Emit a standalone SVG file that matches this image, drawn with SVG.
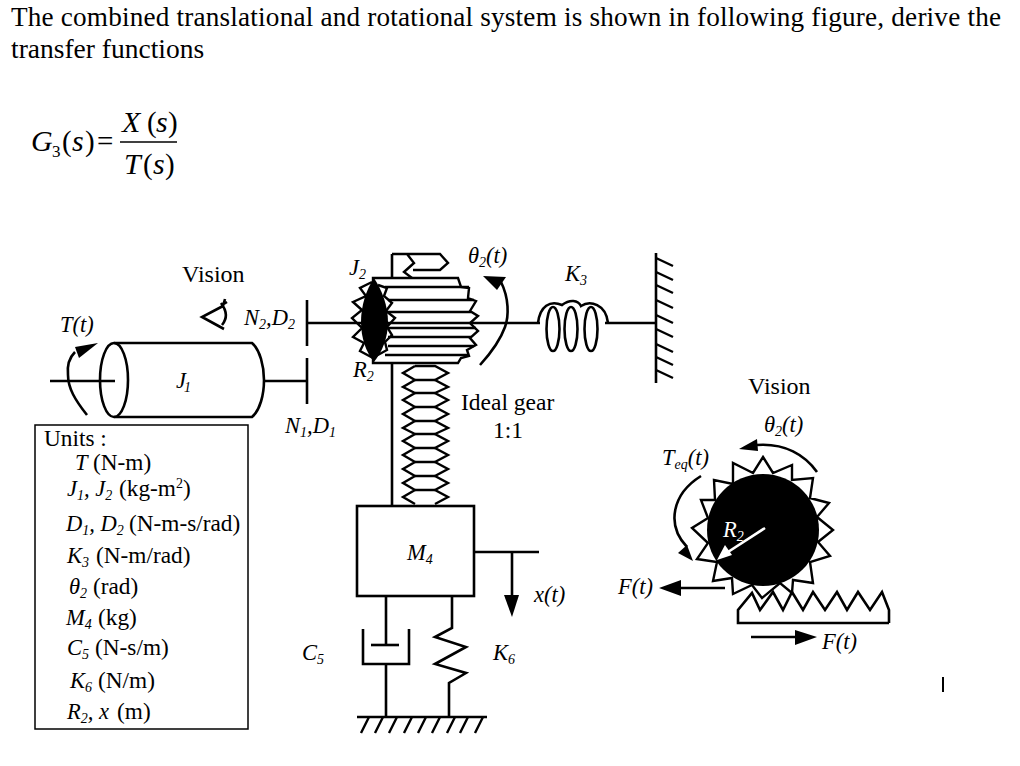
<svg xmlns="http://www.w3.org/2000/svg" width="1020" height="766" viewBox="0 0 1020 766">
<defs>
<style>
text{font-family:"Liberation Serif","Times New Roman",serif;font-size:24px;fill:#000}
.i{font-style:italic;font-size:22.5px}
.l{fill:none;stroke:#000;stroke-width:2.6;stroke-linejoin:miter}
.t{fill:none;stroke:#000;stroke-width:2.4;stroke-linejoin:miter}
.s{font-size:14px;font-style:italic}
.e{font-size:29px}
.ei{font-size:30px;font-style:italic}
.w{fill:#fff;stroke:#000;stroke-width:2.4}
#units text{font-size:23.3px}
#units .i{font-size:22.5px}
#units .s{font-size:14px}
</style>
</defs>
<rect width="1020" height="766" fill="#fff"/>
<g id="problem-text">
<text x="11" y="26" style="font-size:27.2px" textLength="990" lengthAdjust="spacing">The combined translational and rotational system is shown in following figure, derive the</text>
<text x="11" y="58" style="font-size:27.5px">transfer functions</text>
</g>
<g id="equation">
<text x="31" y="151" class="ei">G</text><text x="52" y="157" style="font-size:17px">3</text>
<text x="62" y="151" class="e">(</text><text x="72" y="151" class="ei">s</text><text x="85" y="151" class="e">)</text><text x="97" y="151" class="e">=</text>
<text x="122" y="132" class="ei">X</text><text x="147" y="132" class="e">(</text><text x="156" y="132" class="ei">s</text><text x="168" y="132" class="e">)</text>
<line x1="120" y1="142" x2="177" y2="142" stroke="#000" stroke-width="1.6"/>
<text x="124" y="174" class="ei">T</text><text x="143" y="174" class="e">(</text><text x="153" y="174" class="ei">s</text><text x="165" y="174" class="e">)</text>
</g>
<g id="connectors">
<line class="l" x1="50" y1="381" x2="115" y2="381"/>
<line class="l" x1="264" y1="381" x2="307" y2="381"/>
<line class="l" x1="307" y1="300" x2="307" y2="346"/>
<line class="l" x1="307" y1="358" x2="307" y2="404"/>
<line class="l" x1="605" y1="323" x2="656" y2="323"/>
<line class="l" x1="392" y1="254" x2="392" y2="278"/>
<line class="l" x1="392" y1="363" x2="392" y2="506"/>
<line class="l" x1="475" y1="552" x2="539" y2="552"/>
<line class="l" x1="512" y1="552" x2="512" y2="596"/>
<polygon points="504,595 519,595 512,617" fill="#000"/>
<line class="l" x1="386" y1="597" x2="386" y2="645"/>
<line class="l" x1="386" y1="664" x2="386" y2="717"/>
<polyline class="l" points="452,597 452,628 435,637 466,647 435,664 466,673 449,683 449,717"/>
</g>
<g id="J1">
<path class="l" d="M114,343 H252 C260,350 264,366 264,380 C264,395 260,410 252,417 H114"/>
<ellipse class="l" cx="114" cy="380" rx="14" ry="37"/>
<text x="176" y="388" class="i">J</text><text x="184" y="392" class="s">1</text>
</g>
<g id="torque">
<path class="l" d="M87,415 C75,400 68,388 68,375 C67,366 69,358 75,352"/>
<polygon points="75,347 98,343 79,358" fill="#000"/>
<text x="60" y="332" class="i">T(t)</text>
</g>
<g id="eye">
<path class="l" d="M223,306 L202,317 L224,329 M221,303 C227,311 227,319 222,325 M223,306 L225,299 M222,305 L227,302"/>
</g>
<g id="gear-labels">
<text x="182" y="282">Vision</text>
<text x="244" y="325" class="i">N<tspan class="s" dy="4">2</tspan><tspan dy="-4">,D</tspan><tspan class="s" dy="4">2</tspan></text>
<text x="285" y="433" class="i">N<tspan class="s" dy="4">1</tspan><tspan dy="-4">,D</tspan><tspan class="s" dy="4">1</tspan></text>
<text x="349" y="275" class="i">J<tspan class="s" dy="4">2</tspan></text>
<text x="353" y="377" class="i">R<tspan class="s" dy="4">2</tspan></text>
<text x="468" y="263" class="i">θ<tspan class="s" dy="4">2</tspan><tspan dy="-4">(t)</tspan></text>
<text x="461" y="410" style="font-size:23.5px">Ideal gear</text>
<text x="493" y="438" style="font-size:23.5px">1:1</text>
</g>
<g id="J2">
<path class="t" d="M392,254 H440 L448,263 L440,270 H413 M407,254 L414,263 L404,272 L412,278"/>
<polygon class="w" points="373,278 458,278 461,287 469,288 468,298 476,301 470,311 478,316 470,323 478,331 470,338 476,345 467,350 469,356 461,358 458,363 373,363"/>
<g class="t">
<line x1="385" y1="287" x2="469" y2="287"/>
<line x1="388" y1="300" x2="474" y2="300"/>
<line x1="388" y1="312" x2="471" y2="312"/>
<line x1="388" y1="328" x2="476" y2="328"/>
<line x1="388" y1="337" x2="471" y2="337"/>
<line x1="388" y1="346" x2="474" y2="346"/>
<line x1="385" y1="355" x2="468" y2="355"/>
</g>
<polyline class="t" points="372,282 360,288 366,296 353,302 362,310 352,318 362,328 353,337 364,343 360,351 373,358"/>
<polyline class="t" points="378,285 387,288 384,296 392,303 386,311 395,318 387,327 392,335 385,342 387,350 376,356"/>
<path d="M374,278 C382,290 388,306 388,322 C388,338 382,352 374,362 C366,352 361,338 361,322 C361,306 366,290 374,278Z" fill="#000"/>
<line class="l" x1="307" y1="323" x2="540" y2="323"/>
<path class="l" d="M501,282 C509,298 509,316 505,327 C500,341 490,354 480,365"/>
<polygon points="483,276 506,277 497,290" fill="#000"/>
</g>
<g id="rack-vertical">
<path class="t" d="M415,366 H435 L448,373 L435,380 L448,387 L435,393 L448,400 L435,407 L448,414 L435,421 L448,428 L435,434 L448,441 L435,448 L448,455 L435,462 L448,469 L435,476 L448,483 L435,490 L448,497 L435,504"/>
<path class="t" d="M415,366 L403,373 L415,380 L403,387 L415,393 L403,400 L415,407 L403,414 L415,421 L403,428 L415,434 L403,441 L415,448 L403,455 L415,462 L403,469 L415,476 L403,483 L415,490 L403,497 L415,504"/>
<path class="t" d="M415,380 H435 M415,393 H435 M415,407 H435 M415,421 H435 M415,434 H435 M415,448 H435 M415,462 H435 M415,476 H435 M415,490 H435"/>
</g>
<g id="K3">
<path class="l" d="M538,323 C540,306 550,300 562,305 C570,299 578,300 581,306 C590,300 606,304 608,323"/>
<ellipse class="l" cx="553" cy="329" rx="6.5" ry="22"/>
<ellipse class="l" cx="571" cy="329" rx="6.5" ry="22"/>
<ellipse class="l" cx="591" cy="329" rx="6.5" ry="22"/>
<text x="565" y="281" class="i">K<tspan class="s" dy="4">3</tspan></text>
</g>
<g id="wall">
<line class="l" x1="656" y1="253" x2="656" y2="383"/>
<path class="t" d="M656,258 L673,266 M656,272 L673,280 M656,285 L673,293 M656,300 L673,308 M656,315 L673,323 M656,329 L673,337 M656,344 L673,352 M656,357 L673,365 M656,370 L673,378"/>
</g>
<g id="M4">
<rect class="l" x="357" y="506" width="117" height="90" fill="#fff"/>
<text x="407" y="560" class="i">M<tspan class="s" dy="4">4</tspan></text>
<text x="534" y="602" class="i">x(t)</text>
</g>
<g id="C5">
<path class="l" d="M363,629 V664 H409 V629"/>
<line class="l" x1="371" y1="645" x2="399" y2="645"/>
<text x="302" y="660" class="i">C<tspan class="s" dy="4">5</tspan></text>
</g>
<g id="K6">
<text x="493" y="660" class="i">K<tspan class="s" dy="4">6</tspan></text>
</g>
<g id="ground">
<line class="l" x1="357" y1="717" x2="487" y2="717"/>
<path class="t" d="M369,717 L361,733 M383,717 L375,733 M397,717 L389,733 M412,717 L404,733 M426,717 L418,733 M440,717 L432,733 M455,717 L447,733 M468,717 L460,733 M483,717 L475,733"/>
</g>
<g id="units">
<rect x="35" y="425" width="213" height="304" fill="#fff" stroke="#000" stroke-width="1.5"/>
<text x="44" y="446">Units :</text>
<text x="75" y="470"><tspan class="i">T</tspan><tspan x="93">(N-m)</tspan></text>
<text x="67" y="496"><tspan class="i">J</tspan><tspan class="s" dy="4">1</tspan><tspan class="i" dy="-4">, J</tspan><tspan class="s" dy="4">2</tspan><tspan x="119" dy="-4">(kg-m</tspan><tspan font-size="14" dy="-8">2</tspan><tspan dy="8">)</tspan></text>
<text x="66" y="531"><tspan class="i">D</tspan><tspan class="s" dy="4">1</tspan><tspan class="i" dy="-4">, D</tspan><tspan class="s" dy="4">2</tspan><tspan x="129" dy="-4">(N-m-s/rad)</tspan></text>
<text x="67" y="563"><tspan class="i">K</tspan><tspan class="s" dy="4">3</tspan><tspan x="96" dy="-4">(N-m/rad)</tspan></text>
<text x="69" y="594"><tspan class="i">θ</tspan><tspan class="s" dy="4">2</tspan><tspan x="93" dy="-4">(rad)</tspan></text>
<text x="66" y="625"><tspan class="i">M</tspan><tspan class="s" dy="4">4</tspan><tspan x="98" dy="-4">(kg)</tspan></text>
<text x="67" y="655"><tspan class="i">C</tspan><tspan class="s" dy="4">5</tspan><tspan x="95" dy="-4">(N-s/m)</tspan></text>
<text x="70" y="688"><tspan class="i">K</tspan><tspan class="s" dy="4">6</tspan><tspan x="98" dy="-4">(N/m)</tspan></text>
<text x="67" y="719"><tspan class="i">R</tspan><tspan class="s" dy="4">2</tspan><tspan class="i" dy="-4">, x</tspan><tspan x="117">(m)</tspan></text>
</g>
<g id="vision-gear">
<text x="748" y="394">Vision</text>
<text x="764" y="432" class="i">θ<tspan class="s" dy="4">2</tspan><tspan dy="-4">(t)</tspan></text>
<text x="662" y="465" class="i">T<tspan class="s" dy="4">eq</tspan><tspan dy="-4">(t)</tspan></text>
<polygon class="t" points="763,457 773,473 792,465 792,480 813,478 810,498 829,503 817,517 833,530 818,542 830,556 810,562 813,583 793,580 792,593 780,583 762,598 752,585 733,594 732,578 713,581 717,562 697,559 708,543 692,528 708,518 701,500 715,500 714,480 733,484 733,463 753,473"/>
<circle cx="763" cy="530" r="56" fill="#000"/>
<line x1="765" y1="528" x2="728" y2="552" stroke="#fff" stroke-width="2.6"/>
<polygon points="717,560 725,545 732,555" fill="#fff"/>
<text x="723" y="537" class="i" style="fill:#fff">R<tspan class="s" style="fill:#fff" dy="4">2</tspan></text>
<path class="l" d="M817,472 C805,455 785,443 757,445"/>
<polygon points="739,449 757,439 758,451" fill="#000"/>
<path class="l" d="M701,476 C672,494 666,525 687,547"/>
<polygon points="693,561 678,553 687,545" fill="#000"/>
<text x="618" y="594" class="i">F(t)</text>
<line class="l" x1="680" y1="588" x2="725" y2="588"/>
<polygon points="659,588 681,580 681,596" fill="#000"/>
<path class="l" d="M889,623 V610 L882,592 L870,610 L858,592 L847,610 L837,592 L825,610 L813,592 L803,610 L792,592 L783,610 L773,592 L760,610 L752,593 L738,610 V623 H889"/>
<line class="l" x1="751" y1="637" x2="797" y2="637"/>
<polygon points="795,630 817,637 795,645" fill="#000"/>
<text x="822" y="649" class="i">F(t)</text>
</g>
<line x1="943" y1="677" x2="943" y2="692" stroke="#000" stroke-width="2"/>
</svg>
